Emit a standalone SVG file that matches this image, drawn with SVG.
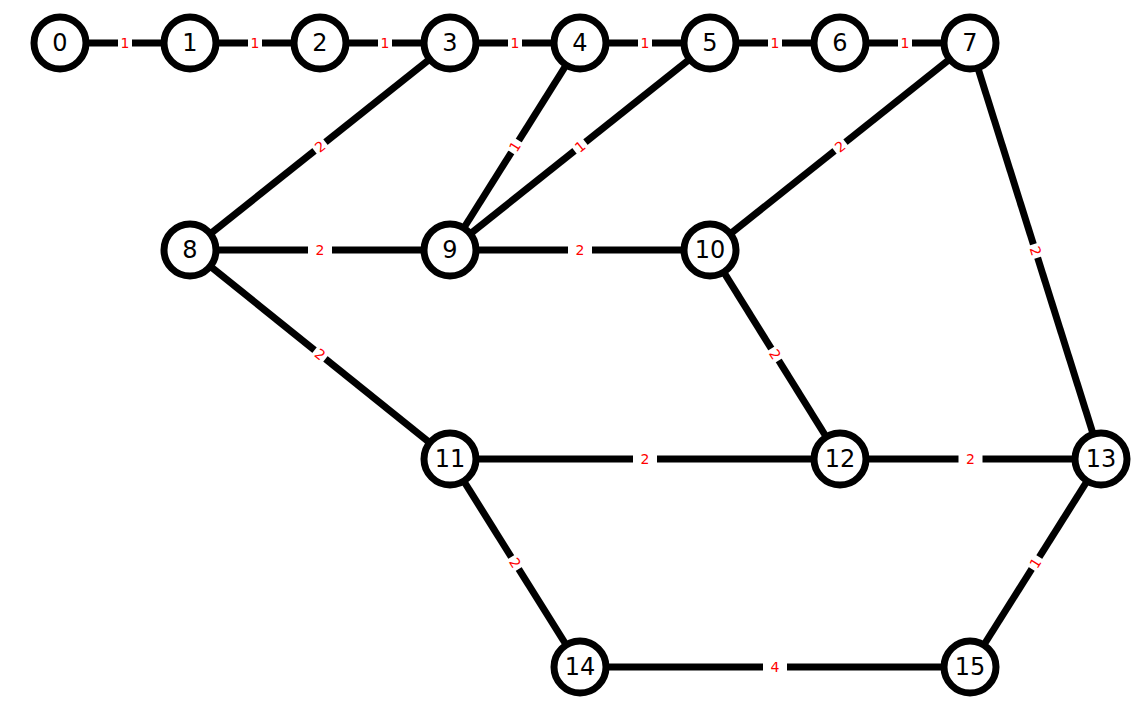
<svg xmlns="http://www.w3.org/2000/svg" width="1148" height="711" viewBox="0 0 1148 711">
<style>
.e{stroke:#000;stroke-width:7}
.n circle{fill:#fff;stroke:#000;stroke-width:7}
.n text{font-family:"DejaVu Sans",sans-serif;font-size:24px;text-anchor:middle;dominant-baseline:central}
.l text{font-family:"DejaVu Sans",sans-serif;font-size:14px;fill:#f00;text-anchor:middle;dominant-baseline:central}
.l rect{fill:#fff}
</style>
<rect width="1148" height="711" fill="#fff"/>
<g id="connectors">
<line class="e" x1="60" y1="43" x2="970" y2="43"/>
<line class="e" x1="450" y1="43" x2="190" y2="250"/>
<line class="e" x1="580" y1="43" x2="450" y2="250"/>
<line class="e" x1="710" y1="43" x2="450" y2="250"/>
<line class="e" x1="970" y1="43" x2="710" y2="250"/>
<line class="e" x1="970" y1="43" x2="1101" y2="459"/>
<line class="e" x1="190" y1="250" x2="710" y2="250"/>
<line class="e" x1="190" y1="250" x2="450" y2="459"/>
<line class="e" x1="710" y1="250" x2="840" y2="459"/>
<line class="e" x1="450" y1="459" x2="1101" y2="459"/>
<line class="e" x1="450" y1="459" x2="580" y2="667"/>
<line class="e" x1="1101" y1="459" x2="970" y2="667"/>
<line class="e" x1="580" y1="667" x2="970" y2="667"/>
<g class="l">
<g transform="translate(125,43)"><rect x="-7" y="-9" width="14" height="18"/><text>1</text></g>
<g transform="translate(255,43)"><rect x="-7" y="-9" width="14" height="18"/><text>1</text></g>
<g transform="translate(385,43)"><rect x="-7" y="-9" width="14" height="18"/><text>1</text></g>
<g transform="translate(515,43)"><rect x="-7" y="-9" width="14" height="18"/><text>1</text></g>
<g transform="translate(645,43)"><rect x="-7" y="-9" width="14" height="18"/><text>1</text></g>
<g transform="translate(775,43)"><rect x="-7" y="-9" width="14" height="18"/><text>1</text></g>
<g transform="translate(905,43)"><rect x="-7" y="-9" width="14" height="18"/><text>1</text></g>
<g transform="translate(320,146.5) rotate(-38.5)"><rect x="-7" y="-9" width="14" height="18"/><text>2</text></g>
<g transform="translate(515,146.5) rotate(-57.9)"><rect x="-7" y="-9" width="14" height="18"/><text>1</text></g>
<g transform="translate(580,146.5) rotate(-38.5)"><rect x="-7" y="-9" width="14" height="18"/><text>1</text></g>
<g transform="translate(840,146.5) rotate(-38.5)"><rect x="-7" y="-9" width="14" height="18"/><text>2</text></g>
<g transform="translate(1035.5,251) rotate(72.5)"><rect x="-7" y="-9" width="14" height="18"/><text>2</text></g>
<g transform="translate(320,250)"><rect x="-12" y="-9" width="24" height="18"/><text>2</text></g>
<g transform="translate(580,250)"><rect x="-12" y="-9" width="24" height="18"/><text>2</text></g>
<g transform="translate(320,354.5) rotate(38.8)"><rect x="-7" y="-9" width="14" height="18"/><text>2</text></g>
<g transform="translate(775,354.5) rotate(58.1)"><rect x="-7" y="-9" width="14" height="18"/><text>2</text></g>
<g transform="translate(645,459)"><rect x="-12" y="-9" width="24" height="18"/><text>2</text></g>
<g transform="translate(970.5,459)"><rect x="-12" y="-9" width="24" height="18"/><text>2</text></g>
<g transform="translate(515,563) rotate(58)"><rect x="-7" y="-9" width="14" height="18"/><text>2</text></g>
<g transform="translate(1035.5,563) rotate(-57.8)"><rect x="-7" y="-9" width="14" height="18"/><text>1</text></g>
<g transform="translate(775,667)"><rect x="-12" y="-9" width="24" height="18"/><text>4</text></g>
</g>
</g>
<g class="n" id="n0"><circle cx="60" cy="43" r="26"/><text x="60" y="43">0</text></g>
<g class="n" id="n1"><circle cx="190" cy="43" r="26"/><text x="190" y="43">1</text></g>
<g class="n" id="n2"><circle cx="320" cy="43" r="26"/><text x="320" y="43">2</text></g>
<g class="n" id="n3"><circle cx="450" cy="43" r="26"/><text x="450" y="43">3</text></g>
<g class="n" id="n4"><circle cx="580" cy="43" r="26"/><text x="580" y="43">4</text></g>
<g class="n" id="n5"><circle cx="710" cy="43" r="26"/><text x="710" y="43">5</text></g>
<g class="n" id="n6"><circle cx="840" cy="43" r="26"/><text x="840" y="43">6</text></g>
<g class="n" id="n7"><circle cx="970" cy="43" r="26"/><text x="970" y="43">7</text></g>
<g class="n" id="n8"><circle cx="190" cy="250" r="26"/><text x="190" y="250">8</text></g>
<g class="n" id="n9"><circle cx="450" cy="250" r="26"/><text x="450" y="250">9</text></g>
<g class="n" id="n10"><circle cx="710" cy="250" r="26"/><text x="710" y="250">10</text></g>
<g class="n" id="n11"><circle cx="450" cy="459" r="26"/><text x="450" y="459">11</text></g>
<g class="n" id="n12"><circle cx="840" cy="459" r="26"/><text x="840" y="459">12</text></g>
<g class="n" id="n13"><circle cx="1101" cy="459" r="26"/><text x="1101" y="459">13</text></g>
<g class="n" id="n14"><circle cx="580" cy="667" r="26"/><text x="580" y="667">14</text></g>
<g class="n" id="n15"><circle cx="970" cy="667" r="26"/><text x="970" y="667">15</text></g>
</svg>
